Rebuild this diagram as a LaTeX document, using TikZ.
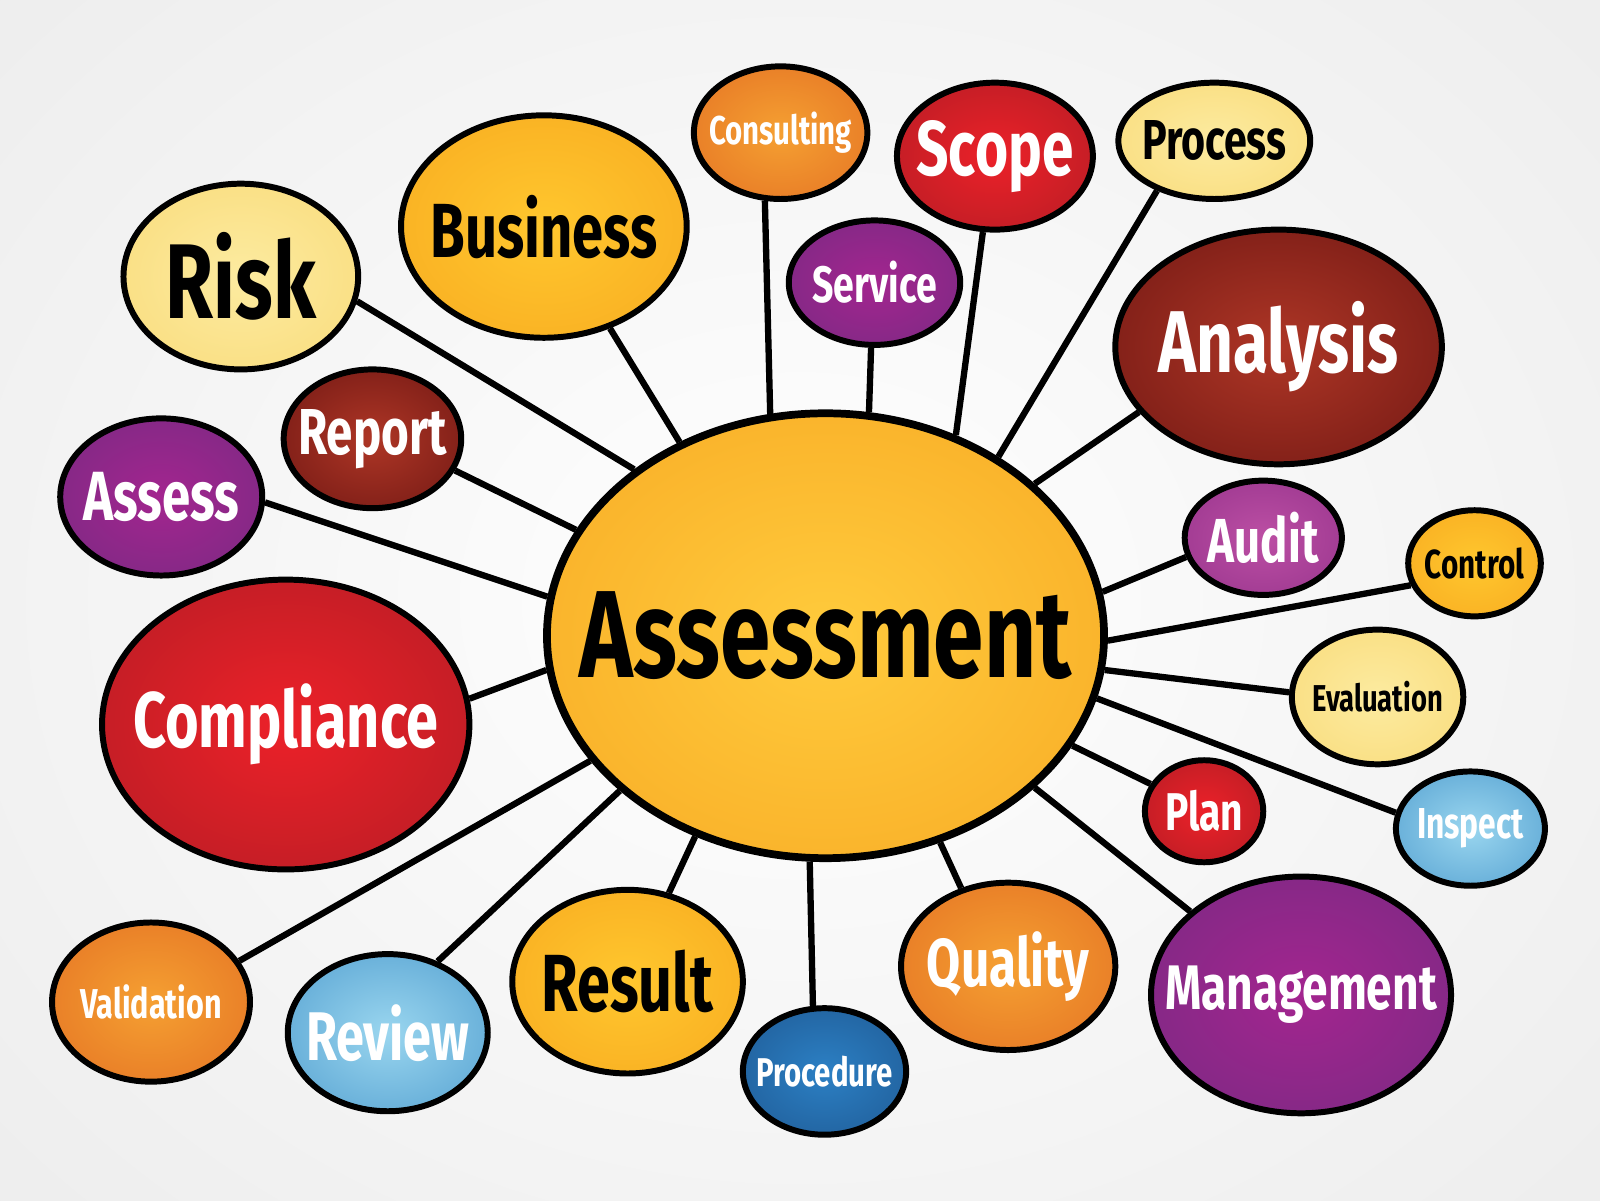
\documentclass[tikz,border=0pt]{standalone}
\usepackage{graphicx}
\usepackage{fontspec}
\setmainfont{Fira Sans}
\usetikzlibrary{shapes.geometric}
\newcommand\pxu{0.010204cm}
\newcommand\T[2]{\makebox[0pt]{\fontsize{#1}{#1}\selectfont\bfseries\scalebox{0.82}[1.12]{#2}}}
\newcommand\mkshade[3]{\definecolor{#1I}{HTML}{#2}\definecolor{#1O}{HTML}{#3}%
  \pgfdeclareradialshading{#1sh}{\pgfpointorigin}{color(0bp)=(#1I); color(50bp)=(#1O)}}
\mkshade{cen}{FFCB3C}{F59E1C}
\mkshade{gold}{FFC72E}{F5A01B}
\mkshade{lyel}{FCEBA0}{F8D56C}
\mkshade{orng}{F5A032}{DE611E}
\mkshade{red}{EC2129}{A01B22}
\mkshade{maro}{AE3626}{5A0C0C}
\mkshade{purp}{A3258F}{6A2C7E}
\mkshade{mage}{BC4FA4}{8A2A84}
\mkshade{blue}{9AD6EF}{3A8CC5}
\mkshade{dblu}{2C80C4}{1A4C83}
\tikzset{
  bub/.style={ellipse, draw=black, line width=1.7pt, inner sep=0pt, shade, shading=#1sh},
  wt/.style={text=white},
  bk/.style={text=black},
  conn/.style={draw=black, line width=1.8pt},
}
\begin{document}
\begin{tikzpicture}[x=\pxu, y=-\pxu]
\useasboundingbox (0,0) rectangle (1568,1176);
\shade[inner color=white, outer color=gray!14] (-300,-300) rectangle (1868,1476);
% central
\node[bub=cen, line width=2.2pt, minimum width=546*\pxu, minimum height=436*\pxu, bk] (ctr) at (809,623) {\T{31.5}{Assessment}};
% satellites
\node[bub=lyel, minimum width=230*\pxu, minimum height=182*\pxu, bk] (risk) at (236,271) {\T{27}{Risk}};
\node[bub=gold, minimum width=280*\pxu, minimum height=218*\pxu, bk] (bus) at (533,222) {\T{19.5}{Business}};
\node[bub=orng, minimum width=170*\pxu, minimum height=130*\pxu, wt] (cons) at (765,130) {\T{10.2}{Consulting}};
\node[bub=red, minimum width=192*\pxu, minimum height=144*\pxu, wt] (scope) at (975,153) {\T{19.7}{Scope}};
\node[bub=lyel, minimum width=188*\pxu, minimum height=114*\pxu, bk] (proc) at (1190,138) {\T{14.3}{Process}};
\node[bub=purp, minimum width=168*\pxu, minimum height=122*\pxu, wt] (serv) at (857,277) {\T{13}{Service}};
\node[bub=maro, minimum width=320*\pxu, minimum height=230*\pxu, wt] (anal) at (1253,340) {\T{22.3}{Analysis}};
\node[bub=maro, minimum width=174*\pxu, minimum height=136*\pxu, wt] (rep) at (365,430) {\T{16.5}{Report}};
\node[bub=purp, minimum width=198*\pxu, minimum height=154*\pxu, wt] (ass) at (158,487) {\T{17.7}{Assess}};
\node[bub=red, minimum width=360*\pxu, minimum height=284*\pxu, wt] (comp) at (280,710) {\T{20}{Compliance}};
\node[bub=mage, minimum width=154*\pxu, minimum height=112*\pxu, wt] (aud) at (1238,527) {\T{15.8}{Audit}};
\node[bub=gold, minimum width=130*\pxu, minimum height=104*\pxu, bk] (ctl) at (1445,552) {\T{10.3}{Control}};
\node[bub=lyel, minimum width=168*\pxu, minimum height=132*\pxu, bk] (eval) at (1350,683) {\T{9.5}{Evaluation}};
\node[bub=red, minimum width=116*\pxu, minimum height=100*\pxu, wt] (plan) at (1180,795) {\T{13.5}{Plan}};
\node[bub=blue, minimum width=146*\pxu, minimum height=112*\pxu, wt] (insp) at (1441,812) {\T{11}{Inspect}};
\node[bub=purp, minimum width=294*\pxu, minimum height=232*\pxu, wt] (mgmt) at (1275,975) {\T{16}{Management}};
\node[bub=orng, minimum width=210*\pxu, minimum height=164*\pxu, wt] (qual) at (988,947) {\T{17.2}{Quality}};
\node[bub=dblu, minimum width=160*\pxu, minimum height=124*\pxu, wt] (pcd) at (808,1050) {\T{10.2}{Procedure}};
\node[bub=gold, minimum width=226*\pxu, minimum height=180*\pxu, bk] (res) at (615,962) {\T{20.6}{Result}};
\node[bub=blue, minimum width=196*\pxu, minimum height=154*\pxu, wt] (rev) at (380,1012) {\T{17.5}{Review}};
\node[bub=orng, minimum width=194*\pxu, minimum height=156*\pxu, wt] (val) at (148,982) {\T{10.6}{Validation}};
% connectors
\draw[conn] (risk.-12.4) -- (ctr.139.2);
\draw[conn] (bus.-57.7) -- (ctr.127);
\draw[conn] (cons.-103.4) -- (ctr.104.7);
\draw[conn] (scope.-99.5) -- (ctr.57.6);
\draw[conn] (proc.-139.1) -- (ctr.46.1);
\draw[conn] (serv.-93.8) -- (ctr.79.3);
\draw[conn] (anal.-155.1) -- (ctr.36.8);
\draw[conn] (rep.-21.8) -- (ctr.157.1);
\draw[conn] (ass.-3) -- (ctr.172);
\draw[conn] (comp.8.8) -- (ctr.187.1);
\draw[conn] (aud.-166.1) -- (ctr.9.4);
\draw[conn] (ctl.-161.6) -- (ctr.-1.5);
\draw[conn] (eval.177.9) -- (ctr.-7.3);
\draw[conn] (plan.153.4) -- (ctr.-24.4);
\draw[conn] (insp.168) -- (ctr.-13.4);
\draw[conn] (mgmt.143.3) -- (ctr.-36.2);
\draw[conn] (qual.121.3) -- (ctr.-61.7);
\draw[conn] (pcd.100) -- (ctr.-94.2);
\draw[conn] (res.65.3) -- (ctr.-123.9);
\draw[conn] (rev.55.6) -- (ctr.-143.1);
\draw[conn] (val.25.8) -- (ctr.-152.9);
\end{tikzpicture}
\end{document}
